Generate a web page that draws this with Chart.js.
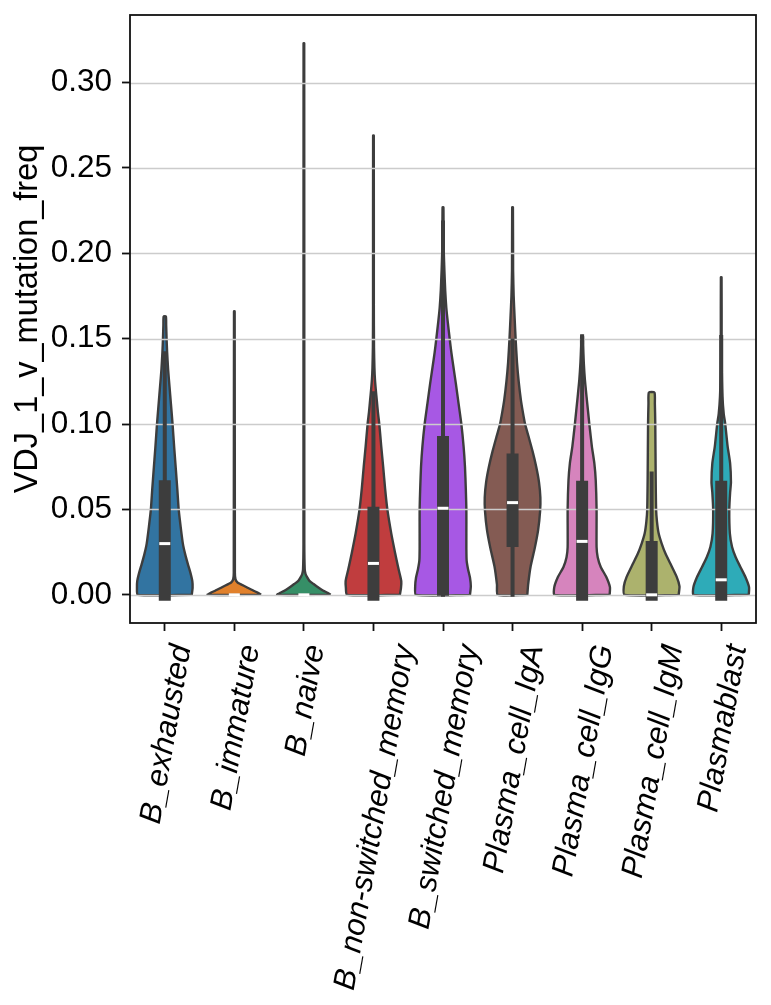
<!DOCTYPE html>
<html>
<head>
<meta charset="utf-8">
<script src="https://cdn.jsdelivr.net/npm/chart.js@4.4.1/dist/chart.umd.min.js"></script>
<style>
  body { margin: 0; background: #fff; }
  #wrap { width: 771px; height: 1005px; }
</style>
</head>
<body>
<div id="wrap"><canvas id="chartViolin"></canvas></div>
<script>
const cellTypes = ['B_exhausted', 'B_immature', 'B_naive', 'B_non-switched_memory', 'B_switched_memory',
  'Plasma_cell_IgA', 'Plasma_cell_IgG', 'Plasma_cell_IgM', 'Plasmablast'];

// density outlines: [value, relative half width]
const bExhausted = [[0, 0.97], [0.004, 1.0], [0.008, 0.99], [0.013, 0.92], [0.018, 0.83], [0.024, 0.73],
  [0.030, 0.65], [0.040, 0.57], [0.050, 0.50], [0.062, 0.45], [0.073, 0.40], [0.086, 0.34], [0.100, 0.28],
  [0.112, 0.22], [0.122, 0.17], [0.132, 0.12], [0.142, 0.085], [0.150, 0.065], [0.158, 0.05], [0.163, 0.04]];
const bImmature = [[0, 0.96], [0.0012, 0.85], [0.0024, 0.69], [0.0043, 0.46], [0.0063, 0.22], [0.0073, 0.11],
  [0.0092, 0.04], [0.013, 0.02], [0.166, 0.012]];
const bNaive = [[0, 0.96], [0.0012, 0.85], [0.0024, 0.70], [0.0043, 0.52], [0.0063, 0.35], [0.0082, 0.20],
  [0.0102, 0.12], [0.0122, 0.06], [0.015, 0.03], [0.03, 0.015], [0.323, 0.012]];
const bNonSwitched = [[0, 0.95], [0.004, 0.99], [0.008, 1.0], [0.0125, 0.94], [0.0167, 0.88], [0.0244, 0.78],
  [0.036, 0.64], [0.05, 0.50], [0.062, 0.42], [0.075, 0.35], [0.087, 0.28], [0.10, 0.21], [0.107, 0.16],
  [0.114, 0.12], [0.12, 0.085], [0.126, 0.055], [0.133, 0.035], [0.145, 0.02], [0.17, 0.014], [0.269, 0.012]];
const bSwitched = [[0, 0.97], [0.005, 1.0], [0.010, 0.97], [0.015, 0.90], [0.020, 0.85], [0.027, 0.84],
  [0.036, 0.84], [0.05, 0.84], [0.062, 0.82], [0.075, 0.79], [0.087, 0.74], [0.10, 0.66], [0.112, 0.56],
  [0.124, 0.46], [0.134, 0.37], [0.142, 0.30], [0.15, 0.24], [0.16, 0.17], [0.168, 0.12], [0.178, 0.08],
  [0.19, 0.05], [0.20, 0.03], [0.212, 0.02], [0.227, 0.015]];
const plasmaIgA = [[0, 0.53], [0.006, 0.56], [0.0167, 0.65], [0.0275, 0.80], [0.038, 0.92], [0.049, 0.99],
  [0.057, 1.0], [0.066, 0.95], [0.075, 0.85], [0.084, 0.72], [0.093, 0.57], [0.10, 0.45], [0.107, 0.37],
  [0.114, 0.30], [0.125, 0.22], [0.136, 0.16], [0.15, 0.11], [0.162, 0.075], [0.175, 0.04], [0.19, 0.02],
  [0.227, 0.013]];
const plasmaIgG = [[0, 0.99], [0.0045, 1.0], [0.0104, 0.87], [0.0163, 0.67], [0.022, 0.56], [0.028, 0.52],
  [0.05, 0.52], [0.067, 0.49], [0.077, 0.44], [0.087, 0.35], [0.10, 0.26], [0.116, 0.16], [0.126, 0.10],
  [0.136, 0.06], [0.146, 0.035], [0.1515, 0.03]];
const plasmaIgM = [[0, 0.97], [0.005, 1.0], [0.0105, 0.9], [0.018, 0.68], [0.024, 0.5], [0.030, 0.36],
  [0.036, 0.25], [0.043, 0.19], [0.05, 0.16], [0.067, 0.145], [0.10, 0.13], [0.112, 0.115], [0.1185, 0.10]];
const plasmablast = [[0, 0.99], [0.0045, 1.0], [0.0104, 0.87], [0.0163, 0.69], [0.022, 0.52], [0.028, 0.39],
  [0.036, 0.31], [0.05, 0.29], [0.06, 0.32], [0.066, 0.35], [0.077, 0.32], [0.087, 0.23], [0.10, 0.145],
  [0.106, 0.09], [0.116, 0.045], [0.13, 0.022], [0.15, 0.015], [0.186, 0.012]];

const densities = [bExhausted, bImmature, bNaive, bNonSwitched, bSwitched, plasmaIgA, plasmaIgG, plasmaIgM, plasmablast];

// inner box stats
const q1 = [0, 0, 0, 0, 0.003, 0.0315, 0, 0, 0];
const medians = [0.030, 0, 0, 0.0184, 0.0507, 0.054, 0.0313, 0, 0.0088];
const q3 = [0.0636, 0, 0, 0.048, 0.0895, 0.0793, 0.0633, 0.028, 0.0633];
const whiskerLow = [0, 0, 0, 0, 0, 0, 0, 0, 0];
const whiskerHigh = [0.1415, 0, 0, 0.118, 0.218, 0.149, 0.1515, 0.071, 0.151];

const palette = ['#3274a1', '#e1812c', '#368f67', '#c03d3e', '#a758e4', '#845b53', '#d684bd', '#acb26d', '#2eabb8'];
const gray = '#3d3d3d';
const halfWidth = 0.4;
const labelFont = 'italic 31px "Liberation Sans", Arial, sans-serif';

Chart.defaults.font.family = '"Liberation Sans", Arial, sans-serif';
Chart.defaults.color = '#000';

function violinOutline(i, profile) {
  const right = profile.map(([v, w]) => ({x: i + w * halfWidth, y: v}));
  const left = profile.slice().reverse().map(([v, w]) => ({x: i - w * halfWidth, y: v}));
  return right.concat(left, [right[0]]);
}

// vertical pieces, skipping the ones with no length
function segments(lo, hi) {
  const pts = [];
  lo.forEach((v, i) => {
    if (hi[i] > v) pts.push({x: i, y: v}, {x: i, y: hi[i]}, {x: i, y: null});
  });
  return pts;
}

const violins = densities.map((profile, i) => ({
  data: violinOutline(i, profile),
  showLine: true,
  fill: 'shape',
  backgroundColor: palette[i],
  borderColor: gray,
  borderWidth: 2.4,
  borderJoinStyle: 'round',
  tension: 0.2,
  pointRadius: 0,
  order: 4
}));

const gridOverViolins = {
  id: 'gridOverViolins',
  afterDatasetDraw(chart, args) {
    if (args.meta.order !== 4 || args.index !== 0) return;
    const {ctx, chartArea, scales} = chart;
    ctx.save();
    ctx.strokeStyle = '#cccccc';
    ctx.lineWidth = 1.6;
    scales.y.ticks.forEach(t => {
      const y = Math.round(scales.y.getPixelForValue(t.value)) + 0.5;
      ctx.beginPath();
      ctx.moveTo(chartArea.left, y);
      ctx.lineTo(chartArea.right, y);
      ctx.stroke();
    });
    ctx.restore();
  }
};

// rotated category labels, bounding box centred under each tick
const xLabels = {
  id: 'xLabels',
  afterDraw(chart) {
    const {ctx, scales} = chart;
    const angle = -80 * Math.PI / 180;
    const cos = Math.cos(angle), sin = Math.sin(angle);
    const top = scales.x.top + 19;
    ctx.save();
    ctx.font = labelFont;
    ctx.fillStyle = '#000';
    ctx.textAlign = 'left';
    ctx.textBaseline = 'alphabetic';
    cellTypes.forEach((label, i) => {
      const m = ctx.measureText(label);
      const corners = [[0, -m.fontBoundingBoxAscent], [m.width, -m.fontBoundingBoxAscent],
        [0, m.fontBoundingBoxDescent], [m.width, m.fontBoundingBoxDescent]]
        .map(([u, v]) => [u * cos - v * sin, u * sin + v * cos]);
      const xs = corners.map(c => c[0]);
      const ys = corners.map(c => c[1]);
      const ox = scales.x.getPixelForValue(i) - (Math.min(...xs) + Math.max(...xs)) / 2;
      const oy = top - Math.min(...ys);
      ctx.save();
      ctx.translate(ox, oy);
      ctx.rotate(angle);
      ctx.fillText(label, 0, 0);
      ctx.restore();
    });
    ctx.restore();
  }
};

const frame = {
  id: 'frame',
  afterDraw(chart) {
    const {ctx, chartArea} = chart;
    ctx.save();
    ctx.strokeStyle = '#111';
    ctx.lineWidth = 1.8;
    ctx.strokeRect(chartArea.left, chartArea.top, chartArea.right - chartArea.left, chartArea.bottom - chartArea.top);
    ctx.restore();
  }
};

const violinChart = new Chart(
  document.getElementById('chartViolin'),
  {
    type: 'scatter',
    data: {
      datasets: [
        ...violins,
        {
          data: segments(whiskerLow, whiskerHigh),
          showLine: true,
          spanGaps: false,
          borderColor: gray,
          borderWidth: 4,
          borderCapStyle: 'square',
          pointRadius: 0,
          order: 3
        },
        {
          data: segments(q1, q3),
          showLine: true,
          spanGaps: false,
          borderColor: gray,
          borderWidth: 12,
          borderCapStyle: 'square',
          pointRadius: 0,
          order: 2
        },
        {
          data: medians.map((v, i) => ({x: i, y: v})),
          showLine: false,
          pointStyle: 'line',
          pointRadius: 5.5,
          pointBorderWidth: 3,
          pointBorderColor: '#fff',
          order: 1
        }
      ]
    },
    options: {
      responsive: true,
      maintainAspectRatio: false,
      animation: false,
      layout: { padding: { top: 15, right: 15, left: 0, bottom: 0 } },
      plugins: {
        legend: { display: false },
        tooltip: { enabled: false }
      },
      scales: {
        x: {
          type: 'linear',
          min: -0.5,
          max: 8.5,
          afterBuildTicks: (scale) => {
            scale.ticks = cellTypes.map((c, i) => ({value: i}));
          },
          afterFit: (scale) => {
            scale.height = 382;
            scale.paddingLeft = 0;
            scale.paddingRight = 0;
          },
          grid: { drawOnChartArea: false, drawTicks: true, tickLength: 8, tickColor: '#111', tickWidth: 1.8 },
          border: { display: false },
          ticks: { display: false }
        },
        y: {
          min: -0.0165,
          max: 0.3396,
          afterFit: (scale) => {
            scale.width = 130;
            scale.paddingTop = 0;
            scale.paddingBottom = 0;
          },
          grid: { drawOnChartArea: false, drawTicks: true, tickLength: 8, tickColor: '#111', tickWidth: 1.8 },
          border: { display: false },
          ticks: {
            stepSize: 0.05,
            includeBounds: false,
            padding: 10,
            font: { size: 31.5 },
            callback: (v) => v.toFixed(2)
          },
          title: {
            display: true,
            text: 'VDJ_1_v_mutation_freq',
            font: { size: 32.5 },
            padding: { top: 9, bottom: 0 }
          }
        }
      }
    },
    plugins: [gridOverViolins, xLabels, frame]
  });
</script>
</body>
</html>
